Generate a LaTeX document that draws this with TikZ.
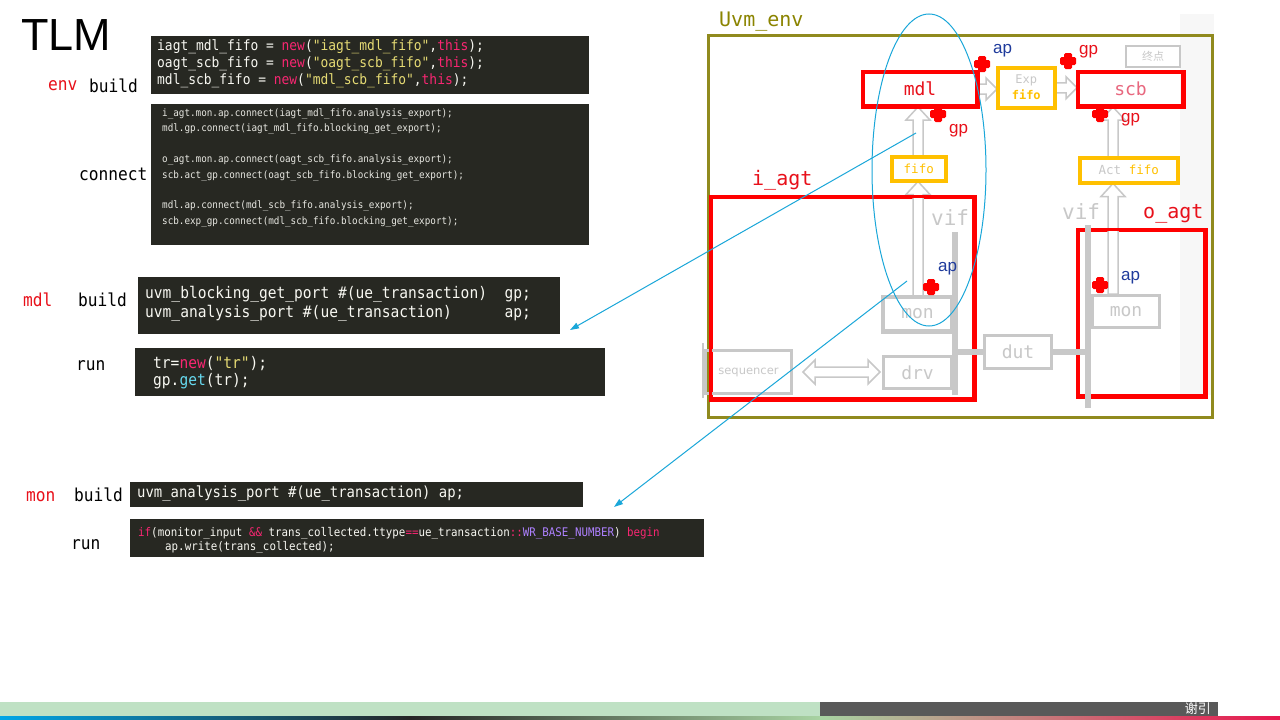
\documentclass[tikz,border=0pt]{standalone}
\usepackage{fontspec}
\setmainfont{Liberation Sans}
\newfontfamily\cmono{DejaVu Sans Mono}
\newfontfamily\cnarrow[FakeStretch=0.91]{DejaVu Sans Mono}
\newfontfamily\dsans{DejaVu Sans}
\newfontfamily\cjk{Noto Sans CJK SC}
\usetikzlibrary{arrows.meta,calc,shapes.geometric}
\definecolor{cbg}{HTML}{272822}
\definecolor{cfg}{HTML}{F8F8F2}
\definecolor{cfg2}{HTML}{E8E8E2}
\definecolor{cpink}{HTML}{F92672}
\definecolor{cstr}{HTML}{E6DB74}
\definecolor{ccyan}{HTML}{66D9EF}
\definecolor{cpurple}{HTML}{AE81FF}
\definecolor{lred}{HTML}{E8101A}
\definecolor{bred}{HTML}{FF0000}
\definecolor{olive}{HTML}{908A1E}
\definecolor{olivetxt}{HTML}{8B8400}
\definecolor{ygold}{HTML}{FFC000}
\definecolor{hgray}{HTML}{C8C8C8}
\definecolor{navy}{HTML}{1F3B9C}
\definecolor{scbpink}{HTML}{E8677E}
\definecolor{skyline}{HTML}{1AA7D9}
\definecolor{panel}{HTML}{F7F7F7}
\definecolor{gband}{HTML}{BFE1C4}
\definecolor{dband}{HTML}{595959}
\definecolor{gcyan}{HTML}{00A6E6}
\definecolor{gdark}{HTML}{252525}
\definecolor{ggreen}{HTML}{A8D3A2}
\definecolor{gred}{HTML}{E8174F}
\newcommand\uparr[2]{%
  \draw[hollow] let \p1=(#1), \p2=(#2) in
   (\x1-5pt,\y1) -- (\x1-5pt,\y2-13pt) -- (\x1-12pt,\y2-13pt) -- (\x1,\y2)
   -- (\x1+12pt,\y2-13pt) -- (\x1+5pt,\y2-13pt) -- (\x1+5pt,\y1) -- cycle;}
\newcommand\rarr[2]{%
  \draw[hollow] let \p1=(#1), \p2=(#2) in
   (\x1,\y1+5pt) -- (\x2-11pt,\y1+5pt) -- (\x2-11pt,\y1+11pt) -- (\x2,\y1)
   -- (\x2-11pt,\y1-11pt) -- (\x2-11pt,\y1-5pt) -- (\x1,\y1-5pt) -- cycle;}
\newcommand\lrarr[2]{%
  \draw[hollow] let \p1=(#1), \p2=(#2) in
   (\x1,\y1) -- (\x1+12pt,\y1+12pt) -- (\x1+12pt,\y1+5pt) -- (\x2-12pt,\y1+5pt)
   -- (\x2-12pt,\y1+12pt) -- (\x2,\y1) -- (\x2-12pt,\y1-12pt) -- (\x2-12pt,\y1-5pt)
   -- (\x1+12pt,\y1-5pt) -- (\x1+12pt,\y1-12pt) -- cycle;}
\tikzset{
  codebox/.style={fill=cbg, draw=none, anchor=north west, inner sep=0},
  code/.style={anchor=west, inner sep=0, text=cfg, text height=0.75em, text depth=0.2em,
    font=\cnarrow\fontsize{#1}{#1}\selectfont},
  lbl/.style={anchor=west, inner sep=0, text=black, font=\cnarrow\fontsize{17.8}{17.8}\selectfont},
  redlbl/.style={lbl, text=lred},
  redbox/.style={draw=bred, line width=3pt, anchor=north west, inner sep=0},
  ybox/.style={draw=ygold, line width=2.5pt, anchor=north west, inner sep=0},
  gbox/.style={draw=hgray, line width=3pt, anchor=north west, inner sep=0},
  boxtxt/.style={inner sep=0, font=\cmono\fontsize{#1}{#1}\selectfont},
  plbl/.style={inner sep=0, anchor=west, font=\fontsize{17}{17}\selectfont},
  hollow/.style={draw=hgray, line width=1.5pt, fill=white},
  bar/.style={draw=hgray, line width=6pt},
  skyarr/.style={draw=skyline, line width=1pt, -{Triangle[length=9pt,width=6pt]}},
  port/.pic={\fill[bred, rounded corners=1.5pt] (-8,-4) rectangle (8,4);
             \fill[bred, rounded corners=1.5pt] (-4,-8) rectangle (4,8);}
}
\begin{document}
\begin{tikzpicture}[x=1pt,y=-1pt]
\useasboundingbox (0,0) rectangle (1280,720);
\fill[white] (0,0) rectangle (1280,720);

% ---------- title ----------
\node[anchor=west, inner sep=0, font=\fontsize{45}{45}\selectfont] (title) at (21,35) {TLM};

% ---------- env ----------
\node[redlbl] (envl) at (48,86) {env};
\node[lbl] (envb) at (89,86) {build};
\node[codebox, minimum width=438, minimum height=58] (c1) at (151,36) {};
\node[code=14.2] (c1a) at (157,48) {iagt\_mdl\_fifo = {\color{cpink}new}({\color{cstr}"iagt\_mdl\_fifo"},{\color{cpink}this});};
\node[code=14.2] (c1b) at (157,65) {oagt\_scb\_fifo = {\color{cpink}new}({\color{cstr}"oagt\_scb\_fifo"},{\color{cpink}this});};
\node[code=14.2] (c1c) at (157,82) {mdl\_scb\_fifo = {\color{cpink}new}({\color{cstr}"mdl\_scb\_fifo"},{\color{cpink}this});};

\node[lbl] (conl) at (79,174) {connect};
\node[codebox, minimum width=438, minimum height=141] (c2) at (151,104) {};
\node[code=10.2, text=cfg2] (c2a) at (162,114) {i\_agt.mon.ap.connect(iagt\_mdl\_fifo.analysis\_export);};
\node[code=10.2, text=cfg2] (c2b) at (162,129) {mdl.gp.connect(iagt\_mdl\_fifo.blocking\_get\_export);};
\node[code=10.2, text=cfg2] (c2c) at (162,160) {o\_agt.mon.ap.connect(oagt\_scb\_fifo.analysis\_export);};
\node[code=10.2, text=cfg2] (c2d) at (162,176) {scb.act\_gp.connect(oagt\_scb\_fifo.blocking\_get\_export);};
\node[code=10.2, text=cfg2] (c2e) at (162,206) {mdl.ap.connect(mdl\_scb\_fifo.analysis\_export);};
\node[code=10.2, text=cfg2] (c2f) at (162,222) {scb.exp\_gp.connect(mdl\_scb\_fifo.blocking\_get\_export);};

% ---------- mdl ----------
\node[redlbl] (mdll) at (23,300) {mdl};
\node[lbl] (mdlb) at (78,300) {build};
\node[codebox, minimum width=422, minimum height=57] (c3) at (138,277) {};
\node[code=16] (c3a) at (145,296) {uvm\_blocking\_get\_port \#(ue\_transaction)~~gp;};
\node[code=16] (c3b) at (145,315) {uvm\_analysis\_port \#(ue\_transaction)~~~~~~ap;};
\node[lbl] (mdlr) at (76,366) {run};
\node[codebox, minimum width=470, minimum height=48] (c4) at (135,348) {};
\node[code=16] (c4a) at (153,366) {tr={\color{cpink}new}({\color{cstr}"tr"});};
\node[code=16] (c4b) at (153,383) {gp.{\color{ccyan}get}(tr);};

% ---------- mon ----------
\node[redlbl] (monl) at (26,497) {mon};
\node[lbl] (monb) at (74,495) {build};
\node[codebox, minimum width=453, minimum height=25] (c5) at (130,482) {};
\node[code=15.3] (c5a) at (137,495) {uvm\_analysis\_port \#(ue\_transaction) ap;};
\node[lbl] (monr) at (71,545) {run};
\node[codebox, minimum width=574, minimum height=38] (c6) at (130,519) {};
\node[code=11.9] (c6a) at (138,534) {{\color{cpink}if}(monitor\_input {\color{cpink}\&\&} trans\_collected.ttype{\color{cpink}==}ue\_transaction{\color{cpink}::}{\color{cpurple}WR\_BASE\_NUMBER}) {\color{cpink}begin}};
\node[code=11.9] (c6b) at (165,548) {ap.write(trans\_collected);};

% ---------- right diagram ----------
\fill[panel] (1180,14) rectangle (1214,395);
\node[anchor=west, inner sep=0, text=olivetxt, font=\cmono\fontsize{20}{20}\selectfont] (envt) at (719,22) {Uvm\_env};
\node[draw=olive, line width=3pt, anchor=north west, inner sep=0, minimum width=504, minimum height=382] (env) at (707,34) {};

% boxes
\node[redbox, minimum width=113, minimum height=33] (mdl) at (862,71) {};
\node[redbox, minimum width=104, minimum height=33] (scb) at (1077,71) {};
\node[ybox, minimum width=56, minimum height=39] (exp) at (997,67) {};
\node[ybox, minimum width=53, minimum height=23] (fifo) at (891,156) {};
\node[ybox, minimum width=97, minimum height=24] (act) at (1079,157) {};
\node[draw=hgray, line width=2pt, anchor=north west, inner sep=0, minimum width=54, minimum height=21] (end) at (1125,45) {};
\node[redbox, minimum width=262, minimum height=201] (iagt) at (710,196) {};
\node[redbox, minimum width=126, minimum height=165] (oagt) at (1077,229) {};
\node[gbox, minimum width=68, minimum height=33] (imon) at (882,296) {};
\node[gbox, minimum width=68, minimum height=32] (drv) at (882,355) {};
\node[gbox, minimum width=67, minimum height=33] (dut) at (983,334) {};
\node[gbox, minimum width=86, minimum height=43] (seq) at (704,349) {};
\node[gbox, minimum width=67, minimum height=32] (omon) at (1091,294) {};

% hollow arrows
\coordinate (ax) at (1113,0);
\coordinate (ix) at (918,0);
\uparr{imon.north -| ix}{fifo.south -| ix}
\uparr{fifo.north -| ix}{mdl.south -| ix}
\uparr{omon.north -| ax}{act.south -| ax}
\uparr{act.north -| ax}{scb.south -| ax}
\rarr{mdl.east}{exp.west}
\rarr{exp.east}{scb.west}
\lrarr{$(seq.east)+(10,0)$}{$(drv.west)+(-2,0)$}

% borders on top of arrows
\draw[bred, line width=3pt] (iagt.north west) rectangle (iagt.south east);
\draw[bred, line width=3pt] (oagt.north west) rectangle (oagt.south east);
\draw[bred, line width=3pt] (mdl.north west) rectangle (mdl.south east);
\draw[bred, line width=3pt] (scb.north west) rectangle (scb.south east);
\draw[ygold, line width=2.5pt] (exp.north west) rectangle (exp.south east);
\draw[ygold, line width=2.5pt] (fifo.north west) rectangle (fifo.south east);
\draw[ygold, line width=2.5pt] (act.north west) rectangle (act.south east);
\draw[hgray, line width=3pt] (imon.north west) rectangle (imon.south east);

% vif bars
\coordinate (ivt) at (955,232);
\coordinate (ivb) at (955,395);
\coordinate (ovt) at (1088,225);
\coordinate (ovb) at (1088,408);
\draw[bar] (ivt) -- (ivb);
\draw[bar] (ovt) -- (ovb);
\draw[bar] (dut.west -| ivt) -- (dut.west);
\draw[bar] (dut.east) -- (dut.east -| ovt);
\draw[hgray, line width=2pt] (703,343) -- (703,398);

% box texts
\node[boxtxt=18, text=lred] (mdlt) at (mdl.center) {mdl};
\node[boxtxt=18, text=scbpink] (scbt) at (scb.center) {scb};
\node[boxtxt=12, text=hgray] (expt1) at ($(exp.center)+(0,-7)$) {Exp};
\node[boxtxt=12, text=ygold] (expt2) at ($(exp.center)+(0,7)$) {\bfseries fifo};
\node[boxtxt=12.5, text=ygold] (fifot) at (fifo.center) {fifo};
\node[boxtxt=12.5, text=ygold] (actt) at (act.center) {{\color{hgray}Act} fifo};
\node[inner sep=0, text=hgray, font=\cjk\fontsize{11}{11}\selectfont] (endt) at (end.center) {终点};
\node[boxtxt=18, text=hgray] (imont) at (imon.center) {mon};
\node[boxtxt=18, text=hgray] (drvt) at (drv.center) {drv};
\node[boxtxt=18, text=hgray] (dutt) at (dut.center) {dut};
\node[boxtxt=18, text=hgray] (omont) at (omon.center) {mon};
\node[inner sep=0, text=hgray, font=\dsans\fontsize{11.5}{11.5}\selectfont] (seqt) at (seq.center) {sequencer};
\node[anchor=west, boxtxt=20, text=lred] (iagtt) at (752,180) {i\_agt};
\node[anchor=west, boxtxt=20, text=lred] (oagtt) at (1143,214) {o\_agt};
\node[anchor=west, boxtxt=21, text=hgray] (vif1) at (931,218) {vif};
\node[anchor=west, boxtxt=21, text=hgray] (vif2) at (1062,212) {vif};

% ports
\pic at (982,64) {port};
\pic at (938,114) {port};
\pic at (1068,61) {port};
\pic at (1100,114) {port};
\pic at (931,287) {port};
\pic at (1100,285) {port};
\node[plbl, text=navy] (ap1) at (993,51) {ap};
\node[plbl, text=lred] (gp1) at (949,131) {gp};
\node[plbl, text=lred] (gp2) at (1079,52) {gp};
\node[plbl, text=lred] (gp3) at (1121,120) {gp};
\node[plbl, text=navy] (ap2) at (938,269) {ap};
\node[plbl, text=navy] (ap3) at (1121,278) {ap};

% ellipse and pointers
\node[ellipse, draw=skyline, line width=1pt, minimum width=114, minimum height=312, inner sep=0] (ell) at (929,170) {};
\coordinate (s1) at (916,133);
\coordinate (e1) at (570,330);
\coordinate (s2) at (907,281);
\coordinate (e2) at (614,507);
\draw[skyarr] (s1) -- (e1);
\draw[skyarr] (s2) -- (e2);

% ---------- footer ----------
\fill[gband] (0,702) rectangle (820,716);
\fill[dband] (820,702) rectangle (1218,716);
\node[anchor=east, inner sep=0, text=white, font=\cjk\fontsize{13}{13}\selectfont] (foot) at (1211,709) {谢引};
\shade[left color=gcyan, right color=gdark] (0,716) rectangle (410,720);
\shade[left color=gdark, right color=ggreen] (410,716) rectangle (820,720);
\shade[left color=ggreen, right color=gred] (820,716) rectangle (1280,720);
\end{tikzpicture}
\end{document}
